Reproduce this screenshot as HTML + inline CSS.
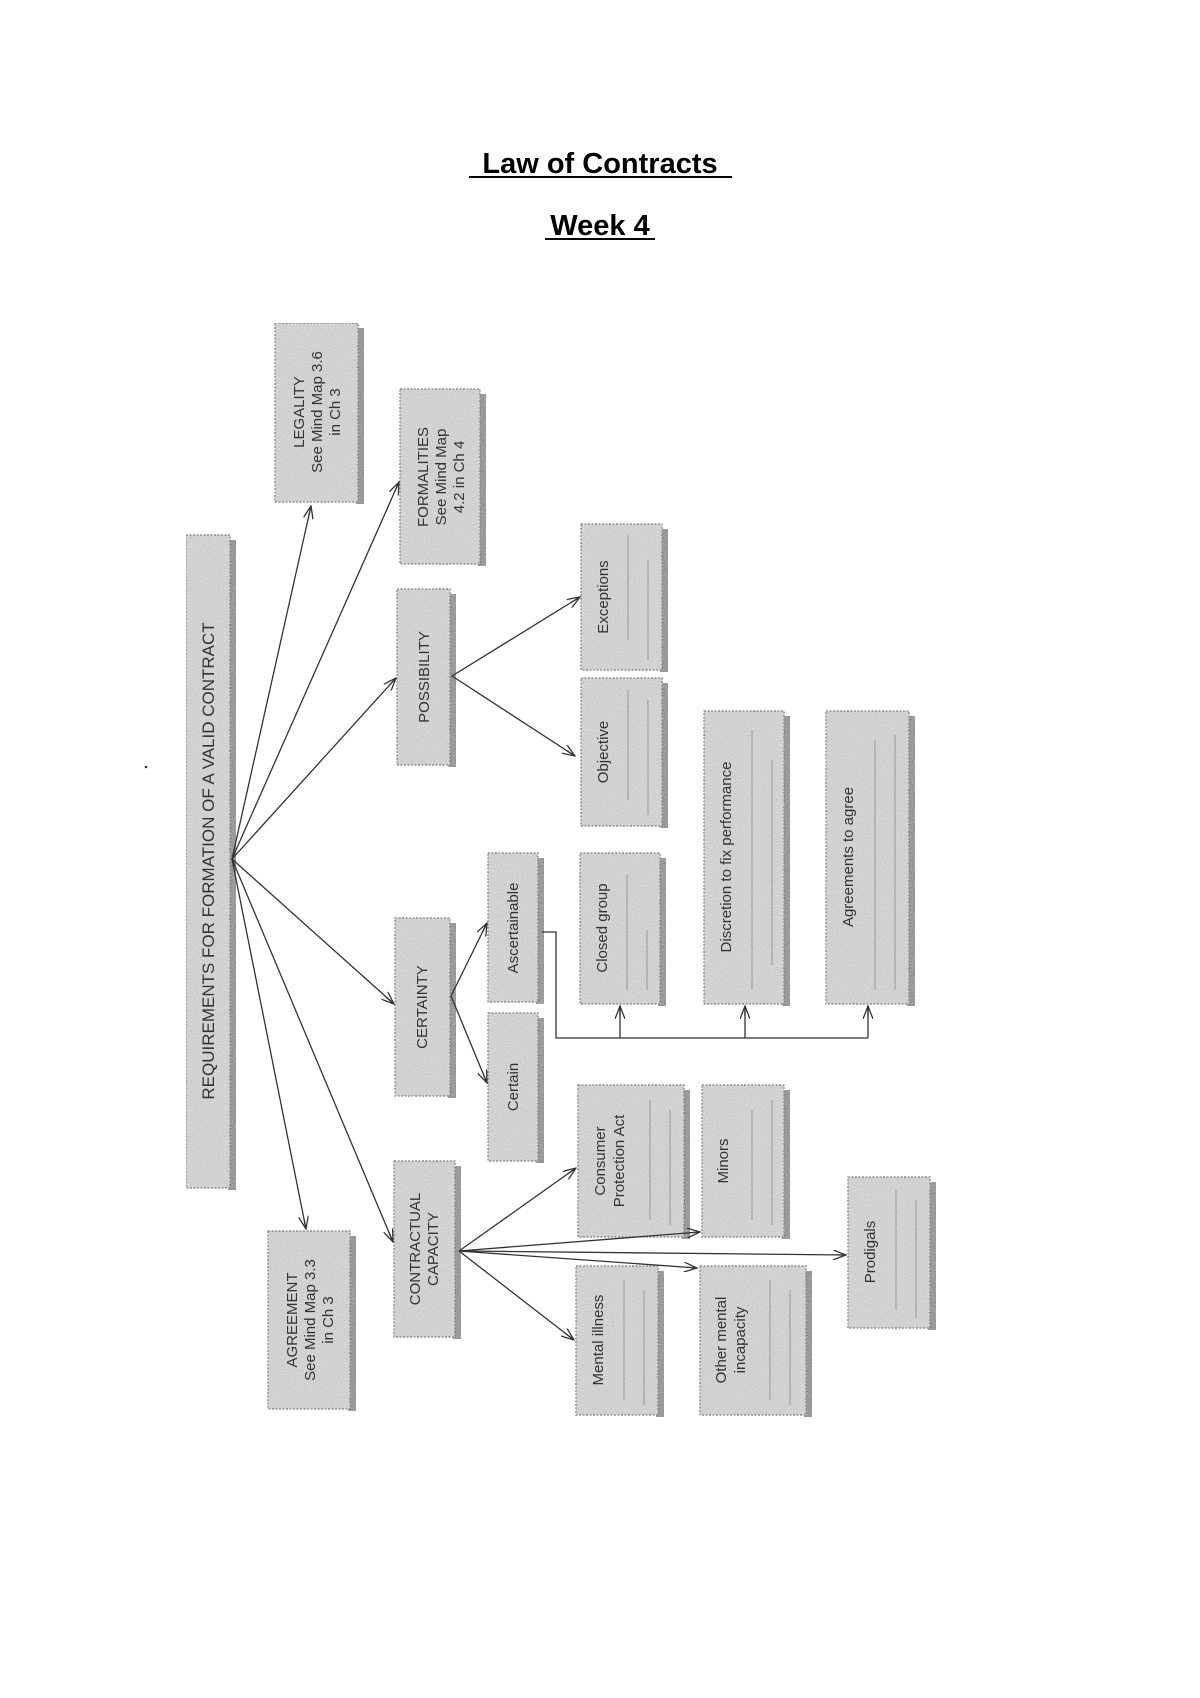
<!DOCTYPE html>
<html><head><meta charset="utf-8"><style>
html,body{margin:0;padding:0;background:#fff;}
svg{display:block;}
.b{fill:#dadada;stroke:#666;stroke-width:1.2;stroke-dasharray:2 1.5;}
.s{fill:#8a8a8a;}
.t{font-family:"Liberation Sans",sans-serif;font-size:15px;fill:#333;}
.l{stroke:#333;stroke-width:1.3;fill:none;}
.g{stroke:#999;stroke-width:1;}
</style></head><body>
<svg width="1200" height="1698" viewBox="0 0 1200 1698" xmlns="http://www.w3.org/2000/svg">
<defs>
<marker id="a" markerWidth="14" markerHeight="10" refX="13" refY="5" orient="auto" markerUnits="userSpaceOnUse">
<path d="M0,0 L13,5 L0,10 M3,5 L13,5" fill="none" stroke="#333" stroke-width="1.3"/>
</marker>
<filter id="n" x="0" y="0" width="100%" height="100%">
<feTurbulence type="fractalNoise" baseFrequency="0.9" numOctaves="1" seed="3" result="t"/>
<feColorMatrix in="t" type="matrix" values="0 0 0 0 0.5  0 0 0 0 0.5  0 0 0 0 0.5  0 0 0 -1.6 1.1" result="m"/>
<feComposite in="m" in2="SourceGraphic" operator="in" result="c"/>
<feMerge><feMergeNode in="SourceGraphic"/><feMergeNode in="c"/></feMerge>
</filter>
</defs>
<text x="600" y="173" text-anchor="middle" font-family="Liberation Sans,sans-serif" font-weight="bold" font-size="29">Law of Contracts</text>
<line x1="469" y1="177" x2="732" y2="177" stroke="#000" stroke-width="2"/>
<text x="600" y="235" text-anchor="middle" font-family="Liberation Sans,sans-serif" font-weight="bold" font-size="29">Week 4</text>
<line x1="545" y1="239" x2="655" y2="239" stroke="#000" stroke-width="2"/>
<circle cx="146" cy="767" r="1.3" fill="#333"/>

<g filter="url(#n)">
<rect class="s" x="228" y="540" width="8" height="650"/><rect class="b" x="186" y="535" width="44" height="653"/>
<rect class="s" x="356" y="328" width="8" height="176"/><rect class="b" x="275" y="323" width="83" height="179"/>
<rect class="s" x="478" y="394" width="8" height="172"/><rect class="b" x="400" y="389" width="80" height="175"/>
<rect class="s" x="448" y="594" width="8" height="173"/><rect class="b" x="397" y="589" width="53" height="176"/>
<rect class="s" x="660" y="529" width="8" height="143"/><rect class="b" x="581" y="524" width="81" height="146"/>
<rect class="s" x="660" y="683" width="8" height="145"/><rect class="b" x="581" y="678" width="81" height="148"/>
<rect class="s" x="782" y="716" width="8" height="290"/><rect class="b" x="704" y="711" width="80" height="293"/>
<rect class="s" x="907" y="716" width="8" height="290"/><rect class="b" x="826" y="711" width="83" height="293"/>
<rect class="s" x="536" y="858" width="8" height="146"/><rect class="b" x="488" y="853" width="50" height="149"/>
<rect class="s" x="658" y="858" width="8" height="148"/><rect class="b" x="580" y="853" width="80" height="151"/>
<rect class="s" x="448" y="923" width="8" height="175"/><rect class="b" x="395" y="918" width="55" height="178"/>
<rect class="s" x="536" y="1018" width="8" height="145"/><rect class="b" x="488" y="1013" width="50" height="148"/>
<rect class="s" x="682" y="1090" width="8" height="149"/><rect class="b" x="578" y="1085" width="106" height="152"/>
<rect class="s" x="782" y="1090" width="8" height="149"/><rect class="b" x="702" y="1085" width="82" height="152"/>
<rect class="s" x="928" y="1182" width="8" height="148"/><rect class="b" x="848" y="1177" width="82" height="151"/>
<rect class="s" x="453" y="1166" width="8" height="173"/><rect class="b" x="394" y="1161" width="61" height="176"/>
<rect class="s" x="656" y="1271" width="8" height="146"/><rect class="b" x="576" y="1266" width="82" height="149"/>
<rect class="s" x="804" y="1271" width="8" height="146"/><rect class="b" x="700" y="1266" width="106" height="149"/>
<rect class="s" x="348" y="1236" width="8" height="175"/><rect class="b" x="268" y="1231" width="82" height="178"/>
</g>

<g class="g">
<line x1="628" y1="535" x2="628" y2="640"/><line x1="648" y1="560" x2="648" y2="660"/>
<line x1="628" y1="690" x2="628" y2="800"/><line x1="648" y1="700" x2="648" y2="815"/>
<line x1="752" y1="730" x2="752" y2="990"/><line x1="772" y1="760" x2="772" y2="965"/>
<line x1="875" y1="740" x2="875" y2="990"/><line x1="895" y1="735" x2="895" y2="990"/>
<line x1="627" y1="875" x2="627" y2="990"/><line x1="647" y1="930" x2="647" y2="990"/>
<line x1="650" y1="1100" x2="650" y2="1220"/><line x1="670" y1="1110" x2="670" y2="1225"/>
<line x1="752" y1="1110" x2="752" y2="1220"/><line x1="772" y1="1100" x2="772" y2="1225"/>
<line x1="896" y1="1190" x2="896" y2="1310"/><line x1="916" y1="1200" x2="916" y2="1318"/>
<line x1="624" y1="1280" x2="624" y2="1400"/><line x1="644" y1="1290" x2="644" y2="1405"/>
<line x1="770" y1="1280" x2="770" y2="1400"/><line x1="790" y1="1290" x2="790" y2="1405"/>
</g>

<g class="t">
<text transform="translate(214,861) rotate(-90)" text-anchor="middle" font-size="17">REQUIREMENTS FOR FORMATION OF A VALID CONTRACT</text>
<text transform="translate(304,412) rotate(-90)" text-anchor="middle">LEGALITY</text>
<text transform="translate(322,412) rotate(-90)" text-anchor="middle">See Mind Map 3.6</text>
<text transform="translate(340,412) rotate(-90)" text-anchor="middle">in Ch 3</text>
<text transform="translate(428,477) rotate(-90)" text-anchor="middle">FORMALITIES</text>
<text transform="translate(446,477) rotate(-90)" text-anchor="middle">See Mind Map</text>
<text transform="translate(464,477) rotate(-90)" text-anchor="middle">4.2 in Ch 4</text>
<text transform="translate(429,677) rotate(-90)" text-anchor="middle">POSSIBILITY</text>
<text transform="translate(608,597) rotate(-90)" text-anchor="middle">Exceptions</text>
<text transform="translate(608,752) rotate(-90)" text-anchor="middle">Objective</text>
<text transform="translate(731,857) rotate(-90)" text-anchor="middle">Discretion to fix performance</text>
<text transform="translate(853,857) rotate(-90)" text-anchor="middle">Agreements to agree</text>
<text transform="translate(518,928) rotate(-90)" text-anchor="middle">Ascertainable</text>
<text transform="translate(607,928) rotate(-90)" text-anchor="middle">Closed group</text>
<text transform="translate(427,1007) rotate(-90)" text-anchor="middle">CERTAINTY</text>
<text transform="translate(518,1087) rotate(-90)" text-anchor="middle">Certain</text>
<text transform="translate(605,1161) rotate(-90)" text-anchor="middle">Consumer</text>
<text transform="translate(624,1161) rotate(-90)" text-anchor="middle">Protection Act</text>
<text transform="translate(728,1161) rotate(-90)" text-anchor="middle">Minors</text>
<text transform="translate(875,1252) rotate(-90)" text-anchor="middle">Prodigals</text>
<text transform="translate(420,1249) rotate(-90)" text-anchor="middle">CONTRACTUAL</text>
<text transform="translate(438,1249) rotate(-90)" text-anchor="middle">CAPACITY</text>
<text transform="translate(603,1340) rotate(-90)" text-anchor="middle">Mental illness</text>
<text transform="translate(726,1340) rotate(-90)" text-anchor="middle">Other mental</text>
<text transform="translate(745,1340) rotate(-90)" text-anchor="middle">incapacity</text>
<text transform="translate(297,1320) rotate(-90)" text-anchor="middle">AGREEMENT</text>
<text transform="translate(315,1320) rotate(-90)" text-anchor="middle">See Mind Map 3.3</text>
<text transform="translate(333,1320) rotate(-90)" text-anchor="middle">in Ch 3</text>
</g>

<g class="l" marker-end="url(#a)">
<line x1="232" y1="859" x2="311" y2="506"/>
<line x1="232" y1="859" x2="399" y2="482"/>
<line x1="232" y1="859" x2="396" y2="678"/>
<line x1="232" y1="859" x2="394" y2="1004"/>
<line x1="232" y1="859" x2="393" y2="1242"/>
<line x1="232" y1="859" x2="306" y2="1229"/>
<line x1="452" y1="676" x2="580" y2="597"/>
<line x1="452" y1="676" x2="575" y2="756"/>
<line x1="451" y1="996" x2="487" y2="923"/>
<line x1="451" y1="996" x2="487" y2="1083"/>
<line x1="459" y1="1251" x2="576" y2="1168"/>
<line x1="459" y1="1251" x2="700" y2="1232"/>
<line x1="459" y1="1251" x2="846" y2="1255"/>
<line x1="459" y1="1251" x2="697" y2="1268"/>
<line x1="459" y1="1251" x2="574" y2="1340"/>
<line x1="620" y1="1038" x2="620" y2="1006"/>
<line x1="745" y1="1038" x2="745" y2="1006"/>
<line x1="868" y1="1038" x2="868" y2="1006"/>
</g>
<polyline class="l" points="542,932 556,932 556,1038 868,1038"/>
</svg>
</body></html>
